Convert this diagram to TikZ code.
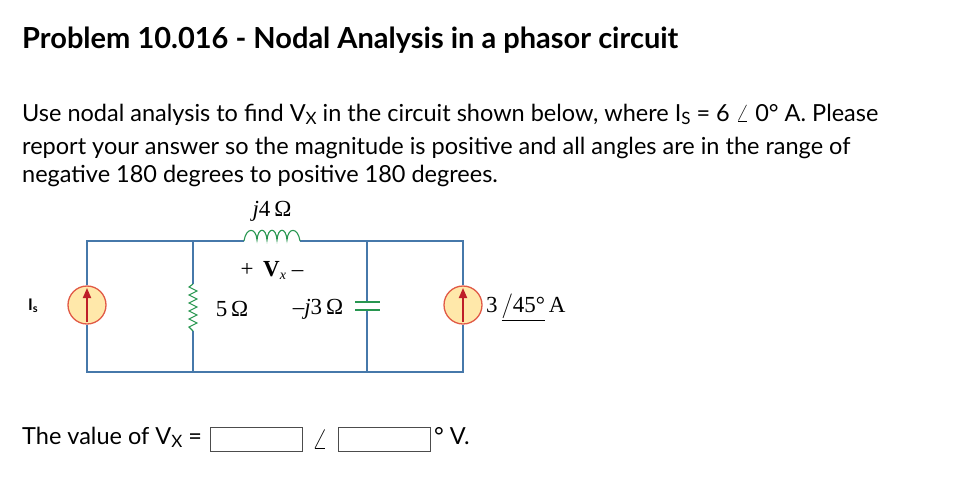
\documentclass[tikz,border=0pt]{standalone}
\usepackage{fontspec}
\setmainfont{Lato}
\newfontfamily\tms{Liberation Serif}
\usetikzlibrary{arrows.meta}
\definecolor{wire}{RGB}{70,120,170}
\definecolor{comp}{RGB}{40,150,80}
\definecolor{srcfill}{RGB}{255,232,170}
\definecolor{srcline}{RGB}{225,90,70}
\definecolor{arr}{RGB}{190,30,40}
\newcommand{\sub}[1]{\raisebox{-3pt}{\fontsize{17}{18}\selectfont #1}}
\tikzset{
 w/.style={draw=wire,line width=1.1pt},
 cp/.style={draw=comp,line width=1.1pt},
 src/.style={circle,minimum size=38pt,inner sep=0pt,fill=srcfill,draw=srcline,line width=1.3pt},
 txt/.style={anchor=base west,inner sep=0pt,font=\fontsize{23.5}{26}\selectfont},
 lab/.style={inner sep=0pt,font=\tms\fontsize{23}{26}\selectfont},
 box/.style={draw=black!70,line width=0.8pt,minimum width=92pt,minimum height=24pt,inner sep=0pt}
}
\begin{document}
\begin{tikzpicture}[x=1pt,y=-1pt]
\useasboundingbox (0,0) rectangle (967,483);
\node[txt,font=\bfseries\fontsize{29}{32}\selectfont] (title) at (22,48) {Problem 10.016 - Nodal Analysis in a phasor circuit};
\node[txt] (l1) at (22,121) {Use nodal analysis to find V\sub{X} in the circuit shown below, where I\sub{S} = 6 $\angle$ 0° A. Please};
\node[txt] (l2) at (22,154) {report your answer so the magnitude is positive and all angles are in the range of};
\node[txt] (l3) at (22,182) {negative 180 degrees to positive 180 degrees.};
% circuit
\coordinate (tl) at (87,241); \coordinate (bl) at (87,372);
\coordinate (tr) at (463,241); \coordinate (br) at (463,372);
\coordinate (ta) at (193,241); \coordinate (ba) at (193,372);
\coordinate (tb) at (367,241); \coordinate (bb) at (367,372);
\coordinate (la) at (244,241); \coordinate (lb) at (300,241);
\node[src] (s1) at (87,305) {};
\node[src] (s2) at (463,305) {};
\draw[-{Triangle[length=10pt,width=8pt]},arr,line width=1.8pt] (87,322)--(87,288);
\draw[-{Triangle[length=10pt,width=8pt]},arr,line width=1.8pt] (463,322)--(463,288);
\draw[w] (s1)--(tl)--(la); \draw[w] (lb)--(tr)--(s2);
\draw[w] (s1)--(bl)--(br)--(s2);
\draw[w] (ta)--(193,284); \draw[w] (193,331)--(ba);
\draw[cp] (193,284)--(189,287)--(197,291)--(189,295)--(197,299)--(189,303)--(197,307)--(189,311)--(197,315)--(189,319)--(197,323)--(189,327)--(193,331);
\draw[w] (tb)--(367,302); \draw[w] (367,310)--(bb);
\draw[cp] (355,302)--(380,302); \draw[cp] (355,310)--(380,310);
\draw[cp] (la) .. controls (246,227) and (256,227) .. (257,240)
 .. controls (258,227) and (266,227) .. (267,240)
 .. controls (268,227) and (276,227) .. (277,240)
 .. controls (278,227) and (286,227) .. (287,240)
 .. controls (288,227) and (298,227) .. (lb);
\node[lab] (j4) at (272,211) {\textit{j}4\,Ω};
\node[lab] (vx) at (272,270) {+\, \textbf{V}\raisebox{-3pt}{\fontsize{14}{14}\selectfont\textit{x}} \textendash};
\node[lab] (r5) at (232,309) {5\,Ω};
\node[lab] (c3) at (318,309) {\textendash\textit{j}3\,Ω};
\node[inner sep=0pt,font=\bfseries\fontsize{16}{16}\selectfont] (is) at (33,306) {I\raisebox{-1.5pt}{\fontsize{11}{12}\selectfont s}};
\node[lab,anchor=west] (i2) at (486,307) {3\,\underline{$\big/$45°}\,A};
% answer line
\node[txt] (ans) at (22,444) {The value of V\sub{X} =};
\node[box,anchor=west] (b1) at (210,439) {};
\node[inner sep=0pt,font=\fontsize{32}{34}\selectfont] (ang) at (320,439) {$\angle$};
\node[box,anchor=west] (b2) at (338,439) {};
\node[txt] (deg) at (434,444) {° V.};
\end{tikzpicture}
\end{document}
